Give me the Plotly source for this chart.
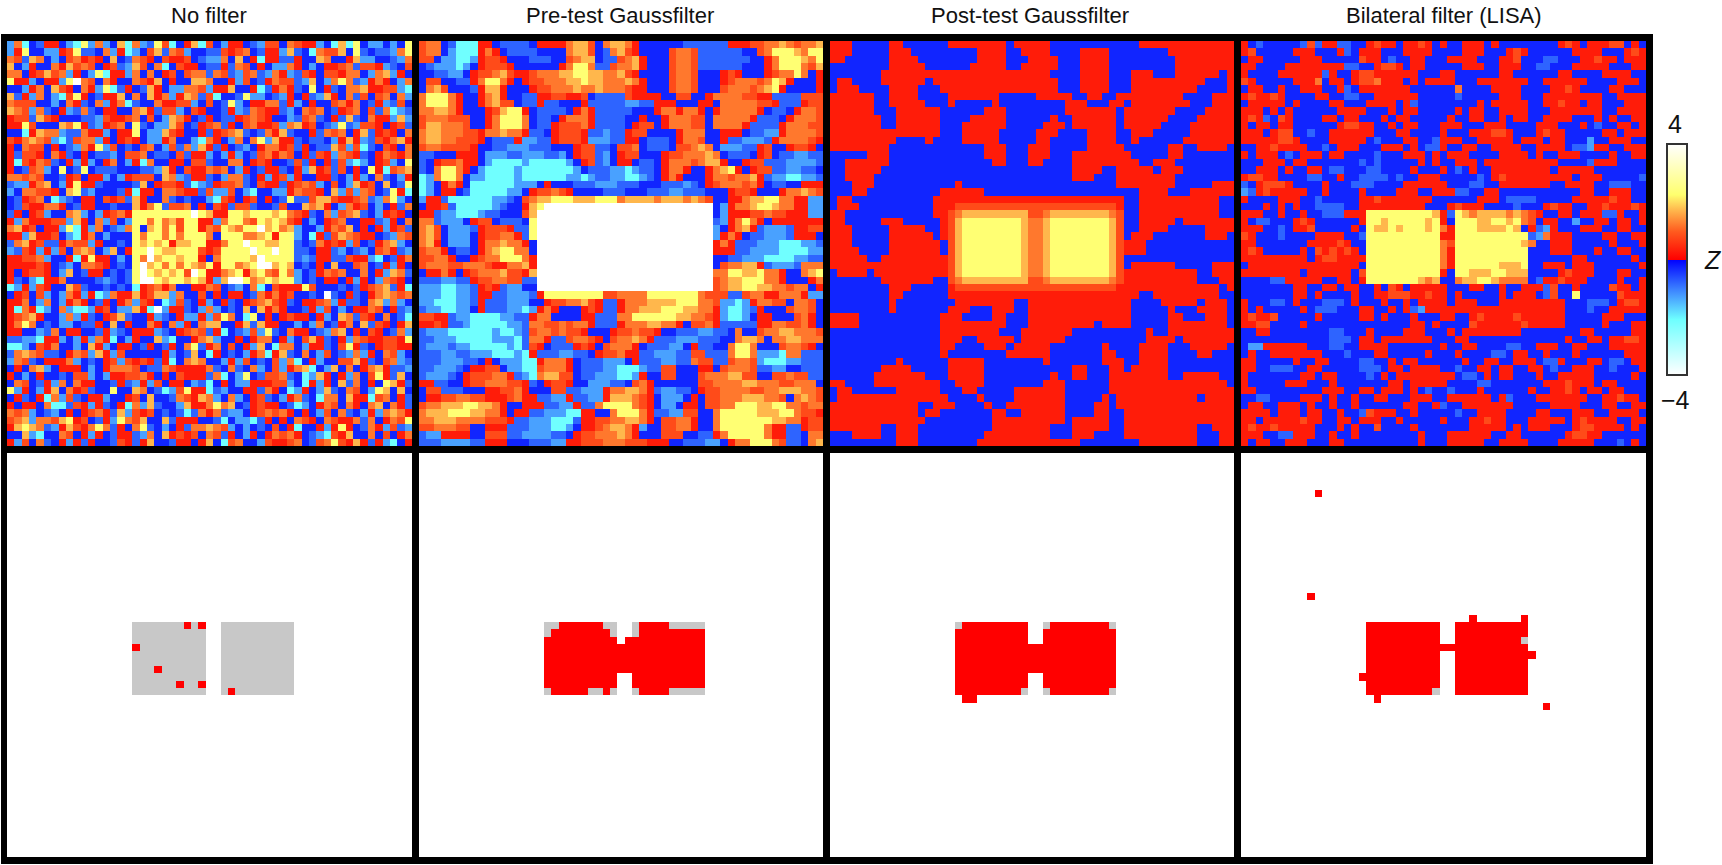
"""Eight panel filter comparison: z maps on top, detections below."""
import re
import plotly.graph_objects as go

N = 55
W, H = 1722, 865

TITLES = ['No filter', 'Pre-test Gaussfilter', 'Post-test Gaussfilter', 'Bilateral filter (LISA)']
TITLE_CENTRES = [209, 620, 1030, 1444]

# z value for each letter used in the top row maps
LEVELS = {'B': -0.3, 'D': -0.8, 'M': -1.3, 'C': -2.1, 'R': 0.3, 'S': 0.8,
          'O': 1.2, 'Y': 1.7, 'L': 2.3, 'W': 4.0}

NO_FILTER = [
    'MOCBD RRBMC LMOMB YCOMD LSCBR YCSBM RRBDM SSBOS RRMBC YCLBM MBMBL',
    'MRLBB MMRSL DDBOM RCMBS YDOSM BBDDS RSOBD RRMYD BCOSS YBLDB DDMOL',
    'OSDYO BMBSO RSRBY BDOSR BSRRS BDMMO BYBRC RRDDR BBYOB BRYMM BBDMO',
    'YBMRB BORYS OSBRS DMYSB OCBSR RBDDR DOSBR BMMOR BMBRR SODSS RMDBS',
    'OOBRS YSOMR BMLCR RMOBO BRSBS OODOS DMSOD MORMD SRBSS ROOBM OYMRB',
    'LRRMB RRMLW OSBOR BBOSR YBRBB YYOBB RMSBD ROSSD MYBMO LODMR ORBMO',
    'BBMRO BYSRB ORMLC DRBDY RBMMO OSMRR YBBRC DRORD BLBRD BOOYR RSSMC',
    'YDRMO BMCSL RBDRR YBOBY ROMRY ODSCB BDLMM BDMRB RDMYR BODSB SOBOM',
    'OSSSB BMBOR DBOMR OCDBB ORRSS MBSBD LMBRR OODRM BRBBS OROBD RMDSB',
    'YOSMO DBRMD ODBRR BBOYR DSSMB SRBBD RMDOS RRDMB OSOBD RSOBS DOCMD',
    'RSSDY SRBBB DDMSR RSOBS BMYOR BDRBD DRSOS RBBMD SODBR DYDBO RRMYM',
    'RRLSB BBYOL RDMRS OBLDB MMYSB DRSOD RBSOR RSMOY RSBDM LDMSS RBRSD',
    'BBCRY OOMDD ORRMB RRLBM MYSRB BRDRS OYDBD ORYDB BRDOS OBRYD RSRBO',
    'SROYO SMCDS OOMRB RSRBM MROBB MCORB MOBOL MYRRD BDDBM RYRMD SROYR',
    'RBOSS BRBDM ORLMS BDBSO BMSDO MYRDR BDMBR OORSD RBDDY SMSCD BSRBO',
    'RDSSR BORDB RBDDM BSSOB DDBSD RRMBM RMBDS OROSB RDSRM OSRDB ROSRO',
    'RCSRO SDBRM RMBRO BMRCO BBRRB SSDBB OOBRS RBBDS DRBRD SMCMB RSMBL',
    'RBDSO MBLBD LBDDD BBBDD MYRBS RROSO BMRBD RRDBR MYRSD SBRBL RCSOY',
    'OOSOS BBDRS BRRMB MRSSS BYOMD RRDBM OODBR MRSMR BBRRD BMRMB ODBMR',
    'DMMRO YBMRL RRDBB BBDYB RSSRD CMDRS SODBS RRDRS OSMBS BMYRS BYBDL',
    'MBOOS SRBYL DMBBB DRCRR BOOSR RDSMM SBMCB BMMRO SSRBY MSMOS BDLRC',
    'BDRSO BCMDB RRBSR SDYRB BODBD BBMCS RBRSB RBDLD DSYYS RRSOD MOLMB',
    'BDSRR OORBD RRBBD BBYRO LDSSO BRBSR DSSDB BDSBB YOYRB MORSB MBRDO',
    'DRBRS MBBOY MBMRS ORLLL LLLLL WLYRR LLYLL LYLOS RDBOM SOYDB MRSRB',
    'RMORR RSSMY RBOMS BMLLO LOYSL LRRMO LLOSL YLYSR BMBRS OBBRR DMRBO',
    'OYRSB RRMLC RMOBD MOLBY LOLSL LROSL YOLLW YLOYM BBMRO SYBRB RMRSD',
    'RRMYR RSBMC ROBMB BBLOL LOLOL LLOBL LLOOY LRLLM BCRDS YOSRR BDMOS',
    'DOYRS DDROS SMRBB DBLYL YLRYY LLRRO LLWLL YYLLD BDORS RMSBD ROYMB',
    'MDSRM RMSBO YOBMY BRLLW LYYLL LSRSL LLLWL LWLLD DBRRD MBDMB SORDM',
    'RRSSO MBBRC RLRRB MBLOW YLLYL LRBOL LLLYW LLLLD MDRRD DSRRM CBDRO',
    'RRRRS RBDMB OOSRB DBLWY LOLOL YOLRL LOYLW WYLYB DBRBY BBSOB DRMRB',
    'RBRSS RBMYB DRRBD BDLWL YLYLS WLRRO YLRYL OSLOM BDROS OBBOB RMYOD',
    'RDBMC RROBB BBDMD BDLWW LYLLY LYRMY WWLOY LYLLM BDBRR BRMRB MOSRB',
    'CMRMS RBBYS DBBDB DBCRS OROBB RROSB DMBOC BSRRR LSBBB DBDRS OYDRC',
    'BRSBS MBMOR MRCMO RRYRS YYMOB BSBRB RRBDO RORSB BDBWD BRDBR OYOSO',
    'RROBM OBMRO RBDRB ROMSR BCMSD BRMBR DBRSO YSRDB RRSOM RDDBO YMOMB',
    'RCORC MBOMC CMRSB MMYRC WMRRD BMOMB DBYBY RORBB DRMSB MBRRO SBRDM',
    'RSOYR BBMOM RDBRS YDBBR MDBRM MRMSL OBCLB RBRSR RBRMB YODSR BOBDC',
    'ROLOB DBMMB DDRBY BRBBO RBOMR BOYYB BRYDY RRBBM BMOBD ROBYD SRBRY',
    'RRBBM DOBRR BBDRM DBRRR MDBRS OSDRC BDMSM LDBOR RBDMO YBRBS RBDOM',
    'DDMMC RRMBM RMORC BMRBB YMCBB ROYMB BRBRO OBRMB SYRDB RMOSR RSSRL',
    'CCMBS ROBBM BYRMB RRBDR BDRBO LDROB SBRMY BCOOB MRRDB SLRDB RSSRR',
    'DOYOS DDBRO SMYRM SBBBB BRMBD YBCRB DBMRO CRYDB OBMSB DMOMR BOSMB',
    'MOSDB RRROM BDBRS MSRSR DRCBO YOBBM RMSBD BSMOC BRMBB SSYRD BSOMD',
    'BRBOY MBRRR BMBRO OOSBD DOSRR RRODB ODBOM BSMRO YCBMY BOBRO YRDDM',
    'RBMBR BBDBS SMBMR RSSOR BRBSR RRDOC BMLBD SSODB CMYRB RMOBS LRDYB',
    'BOSBD RMOBO RRBBD RDMRM SBRRB MDCBR BMMRR RSSMB CRMRB YDOBR BLYRD',
    'LMRBM RYBOR SDBBL BBYOB DCMSL RRCDM BBRRD ORBCM RBMYD BOSBM LYBYB',
    'BRDBR COMSD BRRMB BRSBY BBDOS RYOMB OMBRS DBMRO DBCOO BYRRC SOBRD',
    'RBRRB OCCDS RMRDB RCOMY DBBMY RROLO YBDRS RRBDC MBROS BORBO YBORD',
    'OSOMB DMBRB RSORD YMSRS BDBDC DOROD MMBRS OSORB RBMSB ODBMR MOYOR',
    'SOYMO OSYLR SBDRM LOSYB BYDRR RBBDC BMMCD RBRBO SRBOS RRODO BROSL',
    'RYLYO DMRYS ROLOD RBOLD BMBRD OOYOS MBMBD BSBRC BBRMR LRBDO RMSDM',
    'BBYMC BBOSB RMRBD RRDMO BYRSR SBOSD RBMRB ROSOR BDMCS RYBBO BSBRO',
    'RMSBO DBRMR DRBBD SRDRY BBDRR BRYBC SOBBM SRRSO BDSOL SRYRD RMCBR',
]

PRE_GAUSS = [
    'S1 O2 B1 D1 C3 R2 B1 D4 B1 R4 O1 Y2 S1 B1 O1 Y2 O1 R1 B6 D6 R3 S2 O2 Y1 O1 S1 O2 Y1',
    'S1 O2 B1 M1 C3 R1 O1 R1 B1 D4 B4 O1 Y2 S1 B1 D1 O1 Y1 S1 R1 B4 S1 O2 S1 D6 B2 S1 O1 L3 Y1 O1 L2',
    'S2 B1 M2 C2 M1 R1 S2 R1 B3 D3 B2 S1 O1 Y2 B1 D2 S1 O1 Y1 R1 B3 S1 O2 S1 D7 B2 R1 O1 L3 Y1 O1 L1',
    'B1 D1 M3 C1 M1 B1 R1 S3 R1 B6 R1 O1 L2 O1 D2 S1 O2 Y1 R1 B3 S1 O2 S1 D6 B3 R1 O1 L3 O1 S1 Y1',
    'B2 D2 M2 B1 R1 S2 O1 Y1 S1 R1 R1 S1 O3 Y2 L2 Y2 O2 Y1 S1 R1 B4 S1 O2 S1 B3 R1 S1 R1 B3 R1 S1 O2 L1 O1 B1 R1',
    'B1 S2 B2 D2 R1 O1 L2 O1 R1 B1 R1 S2 O3 Y2 L1 Y2 O3 Y1 O1 R1 B3 S1 O2 S1 B3 R1 S1 O3 S1 O1 L1 Y1 R1 B3 R1',
    'B1 O1 Y1 S1 B3 D1 R1 Y2 R1 B3 R1 S2 O3 Y1 O2 Y1 O3 S1 R2 B3 S1 O2 S1 B3 S1 O3 S1 O1 Y1 L1 R1 B4 R1',
    'O1 L3 O1 R1 B2 R1 O1 Y1 R1 B2 D2 R2 S2 R2 S1 B1 D4 S1 R4 B2 S2 B2 R1 O4 S2 R2 D4 S2',
    'O1 L3 O1 R1 B2 R1 O1 Y1 S2 B1 D2 R1 D2 B3 R1 D5 M2 D2 R3 B3 R2 B1 O5 S2 R1 D3 R1 S3',
    'O2 Y2 O1 R1 B3 R1 S1 Y1 L2 R1 B1 D4 B1 R1 O1 R1 D5 B3 R1 O2 R1 O2 R1 B1 R1 O5 R1 B1 D2 B1 R1 O2 S1',
    'S1 O3 S3 B2 R1 O1 L3 O1 B1 D2 B1 R1 O3 R1 D4 B2 R1 B2 R1 O3 S2 B1 O5 R1 D3 B1 R1 O3 S1',
    'S1 Y2 O3 S1 B2 R1 O1 L3 O1 B1 D2 R1 S3 O1 R1 D4 B1 R1 S2 B1 R1 O3 S2 B1 O4 R1 D4 R1 O3 S2',
    'O1 Y2 O3 S2 R1 O2 Y1 O2 R1 D2 B1 R1 S3 R1 D2 M1 D2 R1 S2 B4 R1 O3 B2 R3 B1 D2 M2 R1 O4 S1',
    'O1 Y2 O2 S3 R1 B1 D3 R1 M2 D2 R1 S3 R1 M3 D2 R2 B1 D3 B1 R1 O2 S1 B2 R1 D2 M3 D1 R1 O4 S1 R1',
    'S1 O2 S4 R1 B2 D2 M3 D3 B3 R1 S2 D2 B1 S2 O1 B1 D3 B1 S2 O1 Y1 O1 B1 M3 D2 R1 S1 B2 R1 S2 R1 B1',
    'D2 B3 R3 B1 M3 D2 M3 D2 M1 B1 R1 S2 D1 M1 B1 R1 S2 B3 R1 S2 O3 Y1 O1 B1 D3 B1 R1 S1 B1 D2 M2 D2',
    'D1 B1 R1 S2 O1 R2 B1 M1 C4 M1 C5 M1 B1 R1 S1 D1 M1 B1 R2 B1 D2 B1 R1 O3 S1 O1 Y2 R1 B2 R1 S2 D3 M4 D1',
    'D1 B1 O1 L2 O1 R1 B1 M1 C4 M1 C7 M1 B1 D3 M2 C1 M1 D2 B1 R1 O2 R1 B2 R1 O1 Y1 L1 R1 B1 R1 S2 D2 M2 D2 B1',
    'C1 M1 O1 L2 O1 B1 M2 C4 M1 C6 M2 C1 M1 D2 M2 C2 M1 D1 B1 R1 O1 R1 B3 R1 O2 S1 O2 Y1 R1 D1 M2 C2 M2 D1',
    'C1 M1 B1 R1 O1 R1 B1 C6 M3 B1 R1 B3 D3 M3 D3 B3 D3 M1 D1 B1 R1 S1 O3 S1 O1 R1 B1 D2 B2 R3',
    'C1 M1 B1 R2 B1 D1 C5 M2 B1 R1 S2 O1 S1 R1 B4 D3 B3 D3 M2 D3 B3 R1 S2 R1 B3 R1 O2 Y1 O1 S1',
    'M1 R2 D1 C6 M2 D1 B1 S1 O1 Y2 L3 Y3 L3 O1 Y4 O1 Y3 O1 Y1 O1 S1 B2 R2 O1 Y2 L2 O2 R2 M2',
    'B1 R2 S1 D1 C5 M1 D1 B2 R1 Y1 L1 W23 B1 M1 R1 O2 Y1 L2 Y1 O2 R2 M2',
    'R2 D1 M2 C3 M1 D2 B3 S1 Y1 W24 B1 M1 R3 S2 O1 S2 R3 M2',
    'O2 D1 M3 B1 R1 S2 B1 D3 B1 L1 W24 D1 M1 R1 O1 L1 O1 R1 B1 R7',
    'O1 Y1 S1 B1 M3 D1 R1 S3 R1 D2 L1 W24 M1 B1 R1 O1 Y1 R1 D1 M3 D1 R2 S2',
    'O1 Y1 S1 B1 M3 B1 R1 S2 O2 R1 D1 L1 W24 M1 R1 O1 R1 B1 D2 M3 D1 R3 B1',
    'O1 Y1 R1 B1 M3 B1 R1 O2 Y1 O2 R1 B1 W24 R1 O1 R1 D3 M3 C3 M2 D1',
    'S1 O2 R1 B1 D2 B1 R1 O1 Y1 L2 O2 B1 W24 R3 D2 M4 C4 M2',
    'S2 O2 R1 B2 R1 S1 O2 L3 O1 R1 W24 B2 D2 M3 C4 M2 D2',
    'S1 O3 S2 O3 S1 R2 O2 Y1 R1 W24 B1 S1 O2 Y2 R1 D1 M3 D1 O3',
    'B1 R2 O1 R1 B1 R1 S1 O3 Y1 S2 R1 Y1 W24 O2 L2 Y2 L1 O2 R1 B2 O1 Y1 L1',
    'D3 M2 D2 R1 S2 O2 S2 D2 W24 S1 O1 Y2 L3 O2 R1 B3 R1 O1',
    'M3 C2 M2 D1 R1 S1 R1 D1 M2 B2 W24 S1 O1 Y2 L2 Y2 O2 S1 O2 B1 R1',
    'M3 C2 M2 D1 R2 D2 M3 D1 R1 L8 S2 O4 L7 O1 S3 D2 S1 O2 R2 O3 R1 M2',
    'M2 C3 M2 D1 R1 D3 M3 B2 R1 S2 O2 Y1 S1 R1 D2 R1 O3 Y4 L3 O2 S1 M2 C1 M1 R1 O2 S2 B1 O2 S1 B1',
    'D1 M2 C2 M2 B1 R1 D3 M2 C1 M1 R1 O1 R1 B3 R1 S1 R1 D2 R1 O2 Y3 L3 Y2 O2 R1 M1 C2 M1 D1 R1 B3 S1 O2 S1 B1',
    'S2 R2 D1 M2 C4 M2 D2 R1 O2 B4 R2 D3 O2 L6 Y2 O2 S1 R1 M1 C2 M1 B1 R2 B3 S1 O1 R1 B1',
    'R2 S1 R1 D2 M1 C5 M2 D1 O2 S2 O1 S1 O2 R1 D3 R1 O3 Y2 O2 R1 B1 S2 O1 R1 D5 R2 O2 S2 O1 R1 B1',
    'D1 M3 C6 M1 C2 M1 D1 S1 O2 S1 O1 S2 R1 B3 R1 S2 O1 S2 R1 B2 D3 M2 D2 B1 O1 B2 S1 O2 Y2 O3 S1',
    'D2 M3 C5 M3 C1 D1 O2 R1 D2 S1 O2 S1 R1 B1 S1 O2 Y1 O1 R1 D3 M3 D3 B2 O1 Y2 O1 B1 O2 Y2 O3 S1',
    'D1 M3 D1 M2 C5 M1 C1 D1 S1 R1 B1 D3 R1 S1 R1 B1 S1 O3 R1 B1 D3 M2 B1 R1 D2 B2 O1 L2 O1 B3 S1 O2 S1 R1 B1',
    'D3 M2 D2 M3 C3 M1 C1 R1 D3 M2 D2 B1 R1 S2 O1 R2 D2 M3 D2 S2 D3 O1 L2 O1 M3 C1 O2 D3',
    'D3 M3 D2 B1 R1 B1 M3 C2 R1 O3 R1 B1 D3 M3 B1 R1 D3 M2 D2 O1 S2 D2 S1 O2 S1 M1 C3 M2 D3',
    'D2 M3 D1 B1 R2 S2 B1 M2 C2 S1 O3 R1 B1 D3 M2 C3 M1 D2 S2 B3 R2 B1 S1 O3 S1 D2 M2 B2 D3',
    'D1 M3 D1 B1 R1 S3 O2 R1 D1 M1 C1 O1 Y2 S2 B1 D2 M3 C2 M1 R1 B2 S2 B3 S1 O3 Y2 S2 B2 S2 O1 S2 D2',
    'R2 D2 B2 R1 S2 O3 S2 R1 D1 B1 R1 S2 R1 B2 M3 D2 B1 S1 O1 R1 B6 S2 O4 Y2 O3 S2 O3 B1',
    'B1 S2 D3 B3 R2 S2 O1 R1 B3 S2 D2 M3 R1 O2 Y2 O1 R1 D1 M2 D2 B1 R1 S2 O4 S2 O2 Y3 O2 S1',
    'B1 R2 S2 O2 S2 R3 S1 O1 R2 D2 M2 R1 D2 M2 R1 Y3 O1 S1 R1 B1 M3 B1 R1 B1 S2 O3 Y3 O2 S1 B1 O1 Y1 O1 S1',
    'S1 O2 Y3 L2 Y2 O1 R1 B2 R3 D2 M2 R1 D2 O1 L4 O1 S1 R1 B1 M2 B1 R2 B1 S2 O2 L3 Y2 L2 O2 S1 O2',
    'O1 Y3 L3 Y2 O2 R1 B1 R2 D2 M3 C2 R2 B2 O1 L3 O1 R1 D2 M2 S2 B2 O1 L5 Y3 L2 O1 S2 R1',
    'O2 Y3 O4 S3 R1 D2 M3 C3 D1 R2 S2 O2 Y2 O1 R1 B1 S2 O2 R1 B2 O1 L7 Y2 O2 R1 S2',
    'S2 O3 S2 B2 R3 D3 M3 C2 M1 B1 R2 S1 O1 Y2 O1 R1 M1 B2 S2 O2 R1 B2 O1 L6 O1 R2 D2 R1 S2',
    'D1 M2 R4 B2 S3 D2 M4 D2 B1 R1 S2 O3 Y1 O1 R1 B3 S3 B2 D2 R1 O1 L5 O1 R2 D2 B1 O2',
    'D3 M4 D2 R3 B3 D3 M2 R2 S3 O3 S3 R3 B2 D3 M2 B1 R1 O2 L3 O1 S1 D2 B1 O1 Y1',
]

# bands around the activated squares of the post-test map
CENTER_TOP = 'R1 S22 R1'
CENTER_EDGE = 'S1 O1 Y9 S2 O1 Y8 O1 S1'
CENTER_MID = 'S1 Y1 L8 Y1 O2 Y1 L8 Y1 S1'

POST_GAUSS = [
    'R3 B5 R2 B6 R8 B1 R5 B12 R13',
    'R3 B5 R3 B9 R4 B2 R4 B4 R4 B8 R9',
    'R2 B6 R4 B8 R4 B3 R4 B3 R4 B9 R8',
    'B8 R5 B6 R5 B2 R5 B3 R4 B9 R8',
    'B7 R23 B4 R4 B3 R3 B3 R6 B1 R1',
    'B1 R2 B4 R6 B1 R17 B3 R4 B3 R10 B3 R1',
    'B1 R3 B4 R4 B3 R16 B3 R4 B3 R9 B4 R1',
    'R6 B2 R4 B4 R7 B5 R3 R2 B2 R2 B2 R9 B4 R2',
    'R6 B2 R5 B3 R1 B5 R1 B9 R3 B3 R2 B1 R8 B3 R4',
    'R6 B3 R6 B6 R3 B8 R7 B1 R7 B4 R4',
    'R7 B2 R6 B4 R5 B6 R1 B2 R6 B1 R6 B4 R5',
    'R7 B2 R6 B3 R6 B5 R3 B1 R6 B1 R5 B4 R6',
    'R15 B3 R5 B5 R3 B4 R4 B2 R3 B5 R6',
    'R9 B4 R1 B4 R5 B5 R2 B5 R4 B2 R1 B6 R7',
    'R8 B13 R3 B3 R3 B5 R5 B6 R2 B2 R4 B1',
    'B5 R3 B13 R3 B3 R3 B3 R8 B5 R2 B7',
    'B2 R6 B14 R2 B3 R2 B4 R9 B2 R3 B8',
    'B2 R5 B26 R4 B2 R5 B1 R3 B7',
    'B2 R4 B27 R3 B3 R8 B8',
    'B3 R3 B11 R1 B21 R8 B5 R3',
    'B3 R2 B10 R6 B21 R4 B3 R6',
    'B1 R2 B11 R26 B2 R11 B2',
    f'B1 R3 B10 R2 {CENTER_TOP} B2 R11 B2',
    f'R2 B12 R2 {CENTER_EDGE} B2 R11 B2',
    f'R2 B5 R3 B5 R1 {CENTER_MID} B2 R5 B1 R7',
    f'R3 B5 R5 B2 R1 {CENTER_MID} B2 R4 B5 R4',
    f'R3 B5 R6 B1 R1 {CENTER_MID} B1 R3 B7 R3 B1',
    f'R3 B5 R7 B1 {CENTER_MID} R3 B12',
    f'R4 B4 R7 B1 {CENTER_MID} R3 B12',
    f'R5 B2 R9 {CENTER_MID} B15',
    f'R16 {CENTER_MID} B1 R6 B5 R3',
    f'B1 R4 B1 R10 {CENTER_MID} R10 B2 R3',
    f'B7 R7 B2 {CENTER_EDGE} R10 B3 R2',
    f'B8 R3 B5 {CENTER_TOP} R13 B1 R1',
    'B8 R2 B6 R26 B2 R9 B2',
    'B8 R1 B8 R8 B2 R14 B4 R5 B1 R3 B1',
    'B8 R1 B7 R3 B3 R3 B2 R14 B5 R1 B3 R4 B1',
    'R4 B11 R3 B4 R2 B3 R14 B5 R2 B3 R3 B1',
    'R4 B11 R9 B3 R9 B1 R4 B5 R8 B1',
    'B15 R8 B3 R7 B10 R1 B2 R9',
    'B15 R3 B2 R5 B1 R6 B11 R4 B1 R8',
    'B15 R2 B4 R3 B1 R5 B7 R1 B4 R4 B3 R5 B1',
    'B15 R1 B8 R6 B7 R2 B3 R4 B4 R2 B3',
    'B9 R1 B6 R5 B8 R1 B7 R3 B2 R4 B9',
    'B7 R4 B5 R5 B12 R2 B3 R2 B1 R5 B9',
    'B6 R7 B3 R5 B9 R1 B2 R2 B3 R8 B2 R5 B2',
    'R2 B4 R9 B2 R4 B8 R3 B6 R16 B1',
    'B1 R2 B6 R6 B3 R2 B5 R7 B6 R17',
    'B1 R15 B4 R1 B4 R7 B5 R1 B1 R11 B1 R4',
    'R12 B2 R3 B4 R1 B2 R8 B4 R2 B1 R16',
    'R12 B1 R2 B7 R2 B2 R6 B4 R2 B2 R15',
    'R13 B9 R10 B1 R5 B2 R15',
    'R7 B2 R3 B10 R8 B3 R5 B2 R10 B2 R3',
    'B3 R4 B2 R3 B9 R9 B3 R3 B4 R10 B3 R2',
    'B9 R3 B8 R14 B8 R8 B3 R2',
]

LISA = [
    'RBDBB BBBDS DRRDD BBRSR RBRRS RBRBB RRRBR BBBBB BBBRS RBRRR SSBRB',
    'RSBBB BBRRR BBBRD BRRRB BBRRR RBBBB RRRBB BRSRB BBBBB RRRRB BBRSR',
    'BRRBB BBBRR RBBBB BSRRB DBBRR BBBRR RRBBB RRSBB BDDBB BRRSR RBRRR',
    'RRBBB BRRRR RRRRD DBBRS SRBRR BBBBB RRRBB RRRBB DDBBB RRRRR BBBRR',
    'RBBBB RRRRR RDRBB RSSRR RRRRB BBRRB BBBBB RRBBB BBBRR BBBBR RRRBB',
    'SRBBB BBRRR OBRRB RSSOR RRBRB RRRRB BBRRR RRRRB BRRRR RRBBB BRRRB',
    'BRRBB RBBRR RBBRD BRRRR RRRBB BBBBO BBBBR RRRBB BBRRS RBBBB RRBBB',
    'RSRRS RBBBB RRBBD DBBRR RRRRB BBBBD BBBBB RRRBB BRRRR RRRRB BRRRR',
    'BRRRR RBRBB BBRRB BBRRR RBRDB BBBBB BBRBR RRRRB BRRSR RBRRB BBRRR',
    'RRRBR BRBBB BBBRR RRBBB RBRRB BBBBR BRRBB RRRRB BBRRR RRRRB BRRRR',
    'RSRDB SRBBB BRRBR RBBBR BRRBB BBBRB BRRBB RBRRB BRRRR BBBRB RBBRR',
    'RBRRB RRBBB BBBRS SRRBB RBRRB BBRRR BBBRR RBBBB RRRBB BRBDB BRRBR',
    'RRRBR SSBBD BBRRR RRRBB BRRBB BBRBB BRRRS SRBBB RSRRB BBBBR RBRRR',
    'RRRRR SSRBB BBRRR RRBDB BBRRB BDRRR BBRRR RRBRR RBRRB BBMBB RRRBB',
    'BBRRS RRRRB BDBRR RBBBR RRBRB DDRBB RRBBR RRRBB RRRRB DDMRR BBRRR',
    'RBRRR BDBRR RBRRB BBBDB BBRRR BRBRR RBBBB RRRRB RBBRR RBBBB RBBRR',
    'BBBRR RBRRB BBBBB BDBDB BBBBR BRBBR RRBRR RRRRR RRRBB BBDRR RBBBB',
    'BBRRR BRBBR RBDDB BBDDB BBBRB BBRBD BRBBR RRRRR RRBRR RRRBB BBBBB',
    'RSSRR BBBBD DBBRB BDDDD BDBBR RRBBB BBDBR SRRRR RRRRR BRRRB BBBBD',
    'DBRSS SRBBB BRBBB DDDBB BBRRR RRRBB BDDBB RRRRR RRBBR RRRBB DDDBB',
    'MDRSR RRRRB BRBBB BRBBB BRRRB BRRRD DBBRR BBBBB BBBBB BRRBB RRRBB',
    'RBBBB RRRBB DBBBB BRRSR RRRRR RBBBB BBRRR BDDDD BBBBB RRRRR SRRBB',
    'BBBRB RBRBB DDDDB BRRRR RRRRR BBBRS RRRBB BBDBB BRSRR BBRRS RRRSR',
    'RRRBB RBBRB BDDDR RRLLL LLLLL LYRDL YOYYY YOYOS RBBRR BRRRD DRBBR',
    'RBDDB BBRSR BBBBB BRLLY LLLLL YLRBL LLYYL LYLOS BRRBB MBBRR BRRBR',
    'RRRBB DBRRS BBBBB RBLYY LYLLL YLORL LLYYY YLYBR DMRBB BRRRB BRRBB',
    'SRBBB DBBBB RRRRB BDLLL LLLLL LLRRL LLLLL LLLLD MORRR BBBBR RBBRR',
    'RRBBB BBBBR RRRSR BBLLL LLLLL LLOSL LLLLL LLLYO BBRRR BBBBB RBBBR',
    'RSRBB BBBRB SRSRS RBLLL LLLLL LLORL LLLLL LLLLB BBRRR BBBRB BRRBB',
    'RRRRR RRRRB RSSRR RRLLL LLLLL LLORL LLLLL LLLLB BBBBB RRBBB BBBRB',
    'BRRRR RRRRR RRRRR RBLLL LLLLL LLORL LLLLL YYYLB BRRRB RRRBB BBBBR',
    'RRRRR RRRBR RRRRR BSLLL LLLLL LLRBL LYYYL LYYYB BBBRS RRRBB BRRBB',
    'BBBBD DRRRR RBBRR BRLLL LLLLY OYBBO YYLLY OOOOB DRRSR RRBBB BRBBR',
    'BBBBB BBRRB BRRBR RBBRB SRBRR RRRBB BRRBB RBBRR RDSBB RBBBB SRRBR',
    'BBBBB BBRRB RBBBB RBBRR SSSRR SRRBR BBBBB RBRRR BDSBB LBBBB BSRRR',
    'RBBBD DBRBB BDDDB RBBBR BBRBR RRRBR RRBBB RRRRR RRRRB BBDDD BRSSR',
    'RBRBB BBBRB DDDBB BRRBB RBRDM RRRRR RRRRR RRRRR RRRRB BBDBB RRRRR',
    'RSRRS BBBBB RBBBB BRRBR BBBRB BBRRB BRSRR RRSRR RRRRB BBBBR RRBBB',
    'RRSSB BBBRB BBBBB BBBBB BBBRR BRBBB BSRRR RRRSR RRRRB BBBBR BBBRR',
    'BBRRB BBBBB BBDDB BBRBB BBRRR BBBRB RRRRR RRRBB BBBBB BRRBB BBBRR',
    'BBBBB BBBBB BBDDD BRRBR RRRRR RBBBR RBBBB BBBBB BBBBR BBRRB RRSSR',
    'BMMRR RRRRB BBDDB BRRRR BBBBB BBRBB RRBBB BDDBB RRRBB RRBBB RRRRR',
    'BRBBR RRRRR RBBBD BBBRR BBBBB RBBBR BBBBD DBRRB BRBBB RBBBB BBRRR',
    'RRBBB BBRBB RRBBB BDDBB RBRRB BBBBB RBBRR BBRRR BDDRB BBRRB DDBRR',
    'RRBBD DDBBR RBBBB BDDDB RRBRR RRBBD BBRRB RRBBR RBDBB RRRBB DBBBR',
    'RBBBB BBBRR BRRBB BBDBR BRRRR RRRRB DDBRB RRBBB RBBRR RRRBB BBBRB',
    'RBBBB BRRRB BBRBB BBBBB RRBRR RRRBB BBDDB BBBBB BRRRS RRRBR RBBBB',
    'RRBBB BBBBB BRRRB BRRBR RRBRB DBBDB BBRBB BBBBR BBRRS RBRRB RRBBB',
    'BBDDB BBBRR RBRBB RBBRR BBBRR RBBRR RRRRB RDBBB RRRRR RRBBR RSRRB',
    'BRRBB RRRBR BBRBB RBBBB BBRRB BRDBB RRRRR RRBBB BBRRR RBBBR RBBRR',
    'RRRRB RRRBR RBBRB BDSRR RBBRB BBBBD BBRRR RBBBB RRBBB RRRBB RRRRB',
    'RRBRR RRRSR RBBRR BRRRB BRBBB BBRBB BRRSR RBBBR RRRRB RSRRR RBBRR',
    'RSRRS RRRRR BBBRB RBBSB BBBRB BBBBB BRRRR RBRBR RRBBB RSSRR RRBRB',
    'RRRBB DDRRR BBRBB RBBBB BBBBR BBBRR RRRRB BRRBB BBBBR SSRRB BBBBB',
    'RBRRB BRRRB BBRRB BBBBB BBBBR BBBRR RRRBB RRRRB BBBRR RRRBB BDBRB',
]

# lower maps, row number -> cell runs: W not tested, G true signal, X detected
DETECT_NO_FILTER = {
    23: 'W17 G7 X1 G1 X1 W2 G10', 24: 'W17 G10 W2 G10', 25: 'W17 G10 W2 G10',
    26: 'W17 X1 G9 W2 G10', 27: 'W17 G10 W2 G10', 28: 'W17 G10 W2 G10',
    29: 'W17 G3 X1 G6 W2 G10', 30: 'W17 G10 W2 G10',
    31: 'W17 G6 X1 G2 X1 W2 G10', 32: 'W17 G10 W2 G1 X1 G8',
}
DETECT_PRE = {
    23: 'W17 G2 X6 G2 W2 G1 X4 G5', 24: 'W17 G1 X8 G1 W2 G1 X9',
    25: 'W17 X10 W1 X11', 26: 'W17 X22', 27: 'W17 X22', 28: 'W17 X22', 29: 'W17 X22',
    30: 'W17 X10 W2 X10', 31: 'W17 X10 W2 X10',
    32: 'W17 G1 X5 G2 X1 G1 W2 G1 X4 G5',
}
DETECT_POST = {
    23: 'W17 G1 X9 W2 G1 X8 G1', 24: 'W17 X10 W2 X10', 25: 'W17 X10 W2 X10',
    26: 'W17 X22', 27: 'W17 X22', 28: 'W17 X22', 29: 'W17 X22',
    30: 'W17 X10 W2 X10', 31: 'W17 X10 W2 X10',
    32: 'W17 X9 G1 W2 G1 X8 G1', 33: 'W18 X2',
}
DETECT_LISA = {
    5: 'W10 X1', 19: 'W9 X1', 22: 'W31 X1 W6 X1',
    23: 'W17 X10 W2 X10', 24: 'W17 X10 W2 X10', 25: 'W17 X10 W2 X9 G1',
    26: 'W17 X22', 27: 'W17 X10 W2 X11', 28: 'W17 X10 W2 X10',
    29: 'W17 X10 W2 X10', 30: 'W16 X11 W2 X10', 31: 'W17 X10 W2 X10',
    32: 'W17 X9 G1 W2 X10', 33: 'W18 X1', 34: 'W41 X1',
}

# panel edges in page pixels: (x0, x1) per column, (y0, y1) per row
COL_EDGES = [(7, 412), (419, 823), (830, 1234), (1241, 1646)]
TOP_EDGES = (41, 446)
LOW_EDGES = (453, 857)

Z_SCALE = [
    [0.0, '#ffffff'], [0.24, '#6effff'], [0.37, '#3c82ff'], [0.4999, '#0000ff'],
    [0.5, '#ff0000'], [0.62, '#ff5a1e'], [0.72, '#ffbe50'], [0.78, '#ffff6e'], [1.0, '#ffffff'],
]
DETECT_SCALE = [[0.0, '#ffffff'], [0.5, '#c8c8c8'], [1.0, '#ff0000']]
DETECT_CODES = {'W': 0, 'G': 1, 'X': 2}


def expand_runs(spec):
    return ''.join(ch * int(n) for ch, n in re.findall(r'([A-Z])(\d+)', spec))


def letters_to_z(rows):
    z = []
    for row in rows:
        row = row.replace(' ', '')
        row = row[:N].ljust(N, row[-1])
        z.append([LEVELS[ch] for ch in row])
    return z


def detect_to_z(spec_by_row):
    z = []
    for r in range(N):
        row = expand_runs(spec_by_row.get(r, 'W1'))[:N].ljust(N, 'W')
        z.append([DETECT_CODES[ch] for ch in row])
    return z


def px_x(x):
    return x / W


def px_y(y):
    return 1 - y / H


fig = go.Figure()

top_maps = [letters_to_z(NO_FILTER), letters_to_z([expand_runs(r) for r in PRE_GAUSS]),
            letters_to_z([expand_runs(r) for r in POST_GAUSS]), letters_to_z(LISA)]
low_maps = [detect_to_z(DETECT_NO_FILTER), detect_to_z(DETECT_PRE),
            detect_to_z(DETECT_POST), detect_to_z(DETECT_LISA)]

layout_axes = {}
for i in range(4):
    x0, x1 = COL_EDGES[i]
    for j, (z, edges) in enumerate([(top_maps[i], TOP_EDGES), (low_maps[i], LOW_EDGES)]):
        n = i + 4 * j + 1
        sfx = '' if n == 1 else str(n)
        if j == 0:
            fig.add_trace(go.Heatmap(z=z, coloraxis='coloraxis', xaxis='x' + sfx, yaxis='y' + sfx,
                                     hoverinfo='skip'))
        else:
            fig.add_trace(go.Heatmap(z=z, colorscale=DETECT_SCALE, zmin=0, zmax=2, showscale=False,
                                     xaxis='x' + sfx, yaxis='y' + sfx, hoverinfo='skip'))
        layout_axes['xaxis' + sfx] = dict(domain=[px_x(x0), px_x(x1)], range=[-0.5, N - 0.5],
                                          visible=False, anchor='y' + sfx)
        layout_axes['yaxis' + sfx] = dict(domain=[px_y(edges[1]), px_y(edges[0])],
                                          range=[N - 0.5, -0.5], visible=False, anchor='x' + sfx)

annotations = []
for name, centre in zip(TITLES, TITLE_CENTRES):
    annotations.append(dict(x=px_x(centre), y=px_y(15), xref='paper', yref='paper', text=name,
                            xanchor='center', yanchor='middle', showarrow=False,
                            font=dict(family='Liberation Sans', size=22, color='#111')))
for label, x, y in [('4', 1675, 124), ('\u22124', 1675, 400), ('<i>Z</i>', 1712, 260)]:
    annotations.append(dict(x=px_x(x), y=px_y(y), xref='paper', yref='paper', text=label,
                            xanchor='center', yanchor='middle', showarrow=False,
                            font=dict(family='Liberation Sans', size=25, color='#111')))

fig.update_layout(
    width=W, height=H,
    margin=dict(l=0, r=0, t=0, b=0),
    paper_bgcolor='white', plot_bgcolor='rgba(0,0,0,0)',
    annotations=annotations,
    shapes=[dict(type='rect', xref='paper', yref='paper', layer='below',
                 x0=px_x(1), x1=px_x(1653), y0=px_y(864), y1=px_y(34),
                 fillcolor='black', line=dict(width=0))],
    coloraxis=dict(
        colorscale=Z_SCALE, cmin=-4, cmax=4,
        colorbar=dict(thicknessmode='pixels', thickness=20, lenmode='pixels', len=231,
                      x=px_x(1667), xanchor='left', xpad=0, y=px_y(144), yanchor='top', ypad=0,
                      outlinewidth=2, outlinecolor='#333', showticklabels=False, ticks=''),
    ),
    **layout_axes,
)

fig.write_html("out.html", config={'displayModeBar': False},
               post_script="document.body.style.margin='0';")
